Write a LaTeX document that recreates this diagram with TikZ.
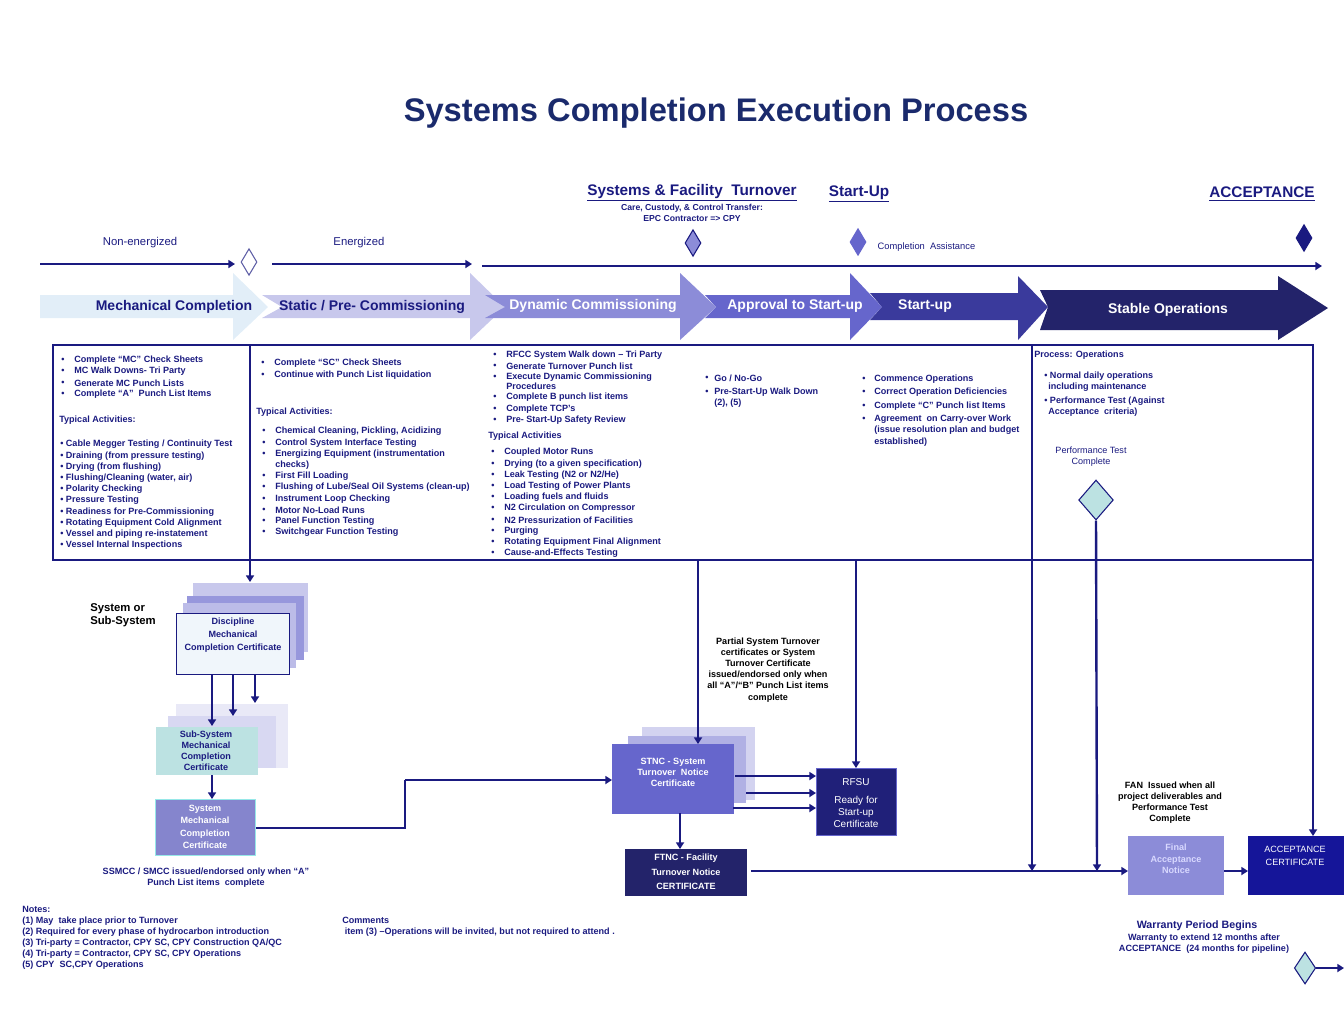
\documentclass[tikz,border=0pt]{standalone}
\usepackage{fontspec}
\setmainfont{Liberation Sans}
\usetikzlibrary{arrows.meta,shapes.geometric}
\definecolor{navy}{HTML}{1A1A80}
\definecolor{ttl}{HTML}{1A2A6C}
\definecolor{cA}{HTML}{E2EEF8}
\definecolor{cB}{HTML}{C8C8EC}
\definecolor{cC}{HTML}{8C8CD8}
\definecolor{cD}{HTML}{6666CC}
\definecolor{cE}{HTML}{3A3A9C}
\definecolor{cF}{HTML}{23236A}
\definecolor{teal}{HTML}{BCE2E2}
\tikzset{
 x=0.75pt,y=-0.75pt,
 tx/.style={text=navy,font=\fontsize{6.8}{8}\selectfont\bfseries,inner sep=0pt,anchor=west},
 ctx/.style={text=navy,font=\fontsize{6.8}{8}\selectfont\bfseries,inner sep=0pt,align=center},
 wtx/.style={text=white,font=\fontsize{6.8}{8}\selectfont\bfseries,inner sep=0pt,align=center},
 ln/.style={navy,line width=1.6pt},
 ar/.style={navy,line width=1.8pt,-{Triangle[length=5pt,width=6pt]}},
 band/.style={font=\fontsize{10.5}{12}\selectfont\bfseries},
 dm/.style={diamond,draw=navy,line width=0.8pt,minimum width=12pt,minimum height=20pt,inner sep=0pt,aspect=0.6},
 hd/.style={text=navy,font=\fontsize{11.5}{13}\selectfont\bfseries,inner sep=0pt},
 box/.style={inner sep=0pt},
}
\begin{document}
\begin{tikzpicture}
\useasboundingbox (0,0) rectangle (1344,1008);
\node[text=ttl,font=\fontsize{24.5}{28}\selectfont\bfseries] (title) at (716,113) {Systems Completion Execution Process};
% headings
\node[hd] (h1) at (692,193) {\underline{Systems \& Facility\ \ Turnover}};
\node[ctx,font=\fontsize{6.5}{8}\selectfont\bfseries] (h1a) at (692,208) {Care, Custody, \& Control Transfer:};
\node[ctx,font=\fontsize{6.5}{8}\selectfont\bfseries] (h1b) at (692,219) {EPC Contractor => CPY};
\node[hd] (h2) at (859,194) {\underline{Start-Up}};
\node[hd] (h3) at (1262,194) {\underline{ACCEPTANCE}};
\node[text=navy,font=\fontsize{8.5}{10}\selectfont] (ne) at (140,243) {Non-energized};
\node[text=navy,font=\fontsize{8.5}{10}\selectfont] (en) at (359,243) {Energized};
\node[text=navy,font=\fontsize{7}{8}\selectfont,anchor=west] (ca) at (873,247) {Completion\ \ Assistance};
% top timeline
\coordinate (t1a) at (40,264); \coordinate (t1b) at (235,264);
\coordinate (t2a) at (272,264); \coordinate (t2b) at (472,264);
\coordinate (t3a) at (482,266); \coordinate (t3b) at (1322,266);
\draw[ar] (t1a) -- (t1b);
\draw[ar] (t2a) -- (t2b);
\draw[ar] (t3a) -- (t3b);
\node[dm,fill=white,draw=navy!70] (d1) at (249,262) {};
\node[dm,fill=cC] (d2) at (693,243) {};
\node[dm,fill=cD,draw=cD] (d3) at (858,242) {};
\node[dm,fill=navy] (d4) at (1304,238) {};
% band chevrons
\fill[cA] (40,295) -- (233,295) -- (233,273) -- (268,307) -- (233,340) -- (233,318) -- (40,318) -- cycle;
\fill[cB] (262,295) -- (470,295) -- (470,273) -- (505,307) -- (470,340) -- (470,318) -- (262,318) -- (282,307) -- cycle;
\fill[cC] (485,295) -- (680,295) -- (680,273) -- (716,307) -- (680,340) -- (680,318) -- (485,318) -- (505,307) -- cycle;
\fill[cD] (705,295) -- (850,295) -- (850,273) -- (882,307) -- (850,340) -- (850,318) -- (705,318) -- (716,307) -- cycle;
\fill[cE] (870,293) -- (1018,293) -- (1018,276) -- (1048,307) -- (1018,340) -- (1018,320) -- (870,320) -- (882,307) -- cycle;
\fill[cF] (1040,290) -- (1278,290) -- (1278,276) -- (1328,308) -- (1278,340) -- (1278,330) -- (1040,330) -- (1048,307) -- cycle;
\node[band,text=navy] (b1) at (174,307) {Mechanical Completion};
\node[band,text=navy] (b2) at (372,307) {Static / Pre- Commissioning};
\node[band,text=white] (b3) at (593,306) {Dynamic Commissioning};
\node[band,text=white] (b4) at (795,306) {Approval to Start-up};
\node[band,text=white] (b5) at (925,306) {Start-up};
\node[band,text=white] (b6) at (1168,310) {Stable Operations};
% column box
\draw[navy,line width=0.8pt] (53,345) rectangle (1313,560);
\coordinate (c1) at (250,345); \coordinate (c1e) at (250,582);
\coordinate (c2) at (698,345);
\coordinate (c3) at (856,345);
\coordinate (c4) at (1032,345);
\coordinate (c5) at (1313,345);
\draw[ln] (c1) -- (250,560); \draw[ar] (250,560) -- (c1e);
% column 1
\foreach \y/\t in {360/{Complete ``MC'' Check Sheets},371/{MC Walk Downs- Tri Party},383/{Generate MC Punch Lists},394/{Complete ``A''\ \ Punch List Items}}{
 \node[tx] at (61,\y) {•}; \node[tx] at (74,\y) {\t};}
\node[tx] (ta1) at (59,420) {Typical Activities:};
\foreach \y/\t in {444/{Cable Megger Testing / Continuity Test},456/{Draining (from pressure testing)},467/{Drying (from flushing)},478/{Flushing/Cleaning (water, air)},489/{Polarity Checking},500/{Pressure Testing},512/{Readiness for Pre-Commissioning},523/{Rotating Equipment Cold Alignment},534/{Vessel and piping re-instatement},545/{Vessel Internal Inspections}}{
 \node[tx] at (60,\y) {• \t};}
% column 2
\foreach \y/\t in {363/{Complete ``SC'' Check Sheets},375/{Continue with Punch List liquidation}}{
 \node[tx] at (261,\y) {•}; \node[tx] at (274,\y) {\t};}
\node[tx] (ta2) at (256,412) {Typical Activities:};
\foreach \y/\t in {431/{Chemical Cleaning, Pickling, Acidizing},443/{Control System Interface Testing},454/{Energizing Equipment (instrumentation},476/{First Fill Loading},487/{Flushing of Lube/Seal Oil Systems (clean-up)},499/{Instrument Loop Checking},510/{Motor No-Load Runs},521/{Panel Function Testing},532/{Switchgear Function Testing}}{
 \node[tx] at (262,\y) {•}; \node[tx] at (275,\y) {\t};}
\node[tx] at (275,465) {checks)};
% column 3
\foreach \y/\t in {355/{RFCC System Walk down -- Tri Party},366/{Generate Turnover Punch list},377/{Execute Dynamic Commissioning},397/{Complete B punch list items},409/{Complete TCP's},420/{Pre- Start-Up Safety Review}}{
 \node[tx] at (493,\y) {•}; \node[tx] at (506,\y) {\t};}
\node[tx] at (506,386) {Procedures};
\node[tx] (ta3) at (488,436) {Typical Activities};
\foreach \y/\t in {452/{Coupled Motor Runs},464/{Drying (to a given specification)},475/{Leak Testing (N2 or N2/He)},486/{Load Testing of Power Plants},497/{Loading fuels and fluids},508/{N2 Circulation on Compressor},520/{N2 Pressurization of Facilities},531/{Purging},542/{Rotating Equipment Final Alignment},553/{Cause-and-Effects Testing}}{
 \node[tx] at (491,\y) {•}; \node[tx] at (504,\y) {\t};}
% column 4
\node[tx] at (705,378) {•}; \node[tx] at (714,378) {Go / No-Go};
\node[tx] at (705,392) {•}; \node[tx] at (714,392) {Pre-Start-Up Walk Down};
\node[tx] at (714,403) {(2), (5)};
% column 5
\foreach \y/\t in {379/{Commence Operations},392/{Correct Operation Deficiencies},406/{Complete ``C'' Punch list Items},419/{Agreement\ \ on Carry-over Work}}{
 \node[tx] at (862,\y) {•}; \node[tx] at (874,\y) {\t};}
\node[tx] at (874,430) {(issue resolution plan and budget};
\node[tx] at (874,442) {established)};
% column 6
\node[tx] (po) at (1034,355) {Process: Operations};
\node[tx] at (1044,376) {• Normal daily operations};
\node[tx] at (1048,387) {including maintenance};
\node[tx] at (1044,401) {• Performance Test (Against};
\node[tx] at (1048,412) {Acceptance\ \ criteria)};
\node[ctx,font=\fontsize{6.8}{8.3}\selectfont] (pt) at (1091,457) {Performance Test\\Complete};
\node[dm,fill=teal,minimum width=26pt,minimum height=30pt] (d5) at (1096,500) {};
% bottom left stacks
\fill[cB] (193,583) rectangle (308,652);
\fill[cC!90] (187,596) rectangle (304,660);
\fill[cB!80!cC] (183,603) rectangle (296,668);
\node[box,draw=navy,line width=0.6pt,fill=cA!50,minimum width=85pt,minimum height=46pt,anchor=north west] (disc) at (176,613) {};
\node[ctx,font=\fontsize{6.8}{9.7}\selectfont\bfseries,anchor=north] (disct) at (233,618) {Discipline\\Mechanical\\Completion Certificate};
\node[font=\fontsize{8.5}{9.7}\selectfont\bfseries,align=left] (sos) at (123,615) {System or\\Sub-System};
\fill[cB!40] (176,704) rectangle (288,768);
\fill[cB!70] (168,716) rectangle (276,768);
\node[box,fill=teal,minimum width=76pt,minimum height=36pt,anchor=north west] (ssm) at (156,727) {};
\node[ctx,font=\fontsize{6.8}{8.3}\selectfont\bfseries] (ssmt) at (206,751) {Sub-System\\Mechanical\\Completion\\Certificate};
\node[box,fill=cC!95!black,draw=teal!80!cyan,line width=1pt,minimum width=75pt,minimum height=42pt,anchor=north west] (smc) at (155,799) {};
\node[wtx,font=\fontsize{6.8}{9.3}\selectfont\bfseries] (smct) at (205,827) {System\\Mechanical\\Completion\\Certificate};
\draw[ar] (212,675) -- (212,726);
\draw[ar] (233,675) -- (233,716);
\draw[ar] (255,675) -- (255,703);
\draw[ar] (212,775) -- (212,799);
\node[ctx,font=\fontsize{6.8}{8.3}\selectfont\bfseries] (ssn) at (206,878) {SSMCC / SMCC issued/endorsed only when ``A''\\Punch List items\ \ complete};
% STNC
\fill[cB!80] (642,727) rectangle (755,800);
\fill[cB!60!cC] (628,736) rectangle (746,803);
\node[box,fill=cD,minimum width=91pt,minimum height=52pt,anchor=north west] (stnc) at (612,744) {};
\node[wtx,font=\fontsize{6.8}{8.3}\selectfont\bfseries] (stnct) at (673,772) {STNC - System\\Turnover\ \ Notice\\Certificate};
\draw[ln] (smc.east |- 0,828) -- (405,828) -- (405,780);
\draw[ar] (405,780) -- (612,780);
\draw[ar] (698,560) -- (698,744);
\node[ctx,font=\fontsize{6.8}{8.3}\selectfont\bfseries,text=black] (pst) at (768,670) {Partial System Turnover\\certificates or System\\Turnover Certificate\\issued/endorsed only when\\all ``A''/``B'' Punch List items\\complete};
% RFSU
\node[box,fill=cF!90!blue,draw=cD,line width=0.5pt,minimum width=60pt,minimum height=50pt,anchor=north west] (rfsu) at (816,768) {};
\node[wtx,font=\fontsize{7.5}{9}\selectfont] (rfsut) at (856,803) {RFSU\\[4pt]Ready for\\Start-up\\Certificate};
\draw[ar] (856,560) -- (856,768);
\draw[ar] (735,776) -- (816,776);
\draw[ar] (746,793) -- (816,793);
\draw[ar] (733,808) -- (816,808);
% FTNC
\node[box,fill=cF,minimum width=91pt,minimum height=35pt,anchor=north west] (ftnc) at (625,849) {};
\node[wtx,font=\fontsize{6.8}{11}\selectfont\bfseries] (ftnct) at (686,872) {FTNC - Facility\\Turnover Notice\\CERTIFICATE};
\draw[ar] (680,813) -- (680,849);
% final acceptance
\node[box,fill=cC,minimum width=72pt,minimum height=44pt,anchor=north west] (fan) at (1128,836) {};
\node[wtx,text=white!85!blue,font=\fontsize{6.8}{8.8}\selectfont\bfseries] (fant) at (1176,859) {Final\\Acceptance\\Notice};
\node[box,fill=navy!80!blue,minimum width=72pt,minimum height=44pt,anchor=north west] (acc) at (1248,836) {};
\node[wtx,font=\fontsize{6.8}{10}\selectfont] (acct) at (1295,856) {ACCEPTANCE\\CERTIFICATE};
\draw[ar] (751,871) -- (fan.west |- 0,871);
\draw[ar] (1224,871) -- (acc.west |- 0,871);
\draw[ar] (c4) -- (1032,871);
\draw[ar] (d5.south) -- (1097,871);
\draw[ar] (c5) -- (1313,836);
\node[ctx,font=\fontsize{6.8}{8.3}\selectfont\bfseries,text=black] (fant2) at (1170,803) {FAN\ \ Issued when all\\project deliverables and\\Performance Test\\Complete};
\node[ctx,font=\fontsize{8}{9}\selectfont\bfseries] (wpb) at (1197,926) {Warranty Period Begins};
\node[ctx,font=\fontsize{6.8}{8.3}\selectfont\bfseries] (wte) at (1204,944) {Warranty to extend 12 months after\\ACCEPTANCE\ \ (24 months for pipeline)};
\node[dm,fill=teal,minimum width=16pt,minimum height=24pt] (d6) at (1305,968) {};
\coordinate (wend) at (1344,968);
\draw[ar] (d6.east) -- (wend);
% notes
\node[tx,anchor=north west,align=left,font=\fontsize{6.8}{8.3}\selectfont\bfseries] (notes) at (22,906) {Notes:\\(1) May\ \ take place prior to Turnover\\(2) Required for every phase of hydrocarbon introduction\\(3) Tri-party = Contractor, CPY SC, CPY Construction QA/QC\\(4) Tri-party = Contractor, CPY SC, CPY Operations\\(5) CPY\ \ SC,CPY Operations};
\node[tx,anchor=north west,align=left,font=\fontsize{6.8}{8.3}\selectfont\bfseries] (comm) at (342,917) {Comments\\\ item (3) --Operations will be invited, but not required to attend .};
\end{tikzpicture}
\end{document}
